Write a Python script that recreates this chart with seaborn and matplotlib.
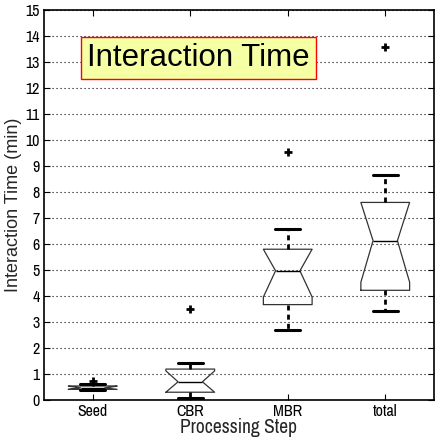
import numpy as np
import pandas as pd
import seaborn as sns
import matplotlib.pyplot as plt

# Interaction time per processing step (minutes), one value per session
steps = ["Seed", "CBR", "MBR", "total"]
seed_min = [0.38, 0.39, 0.40, 0.42, 0.45, 0.47, 0.50, 0.53, 0.55, 0.63, 0.75]
cbr_min = [0.08, 0.20, 0.27, 0.33, 0.50, 0.70, 0.90, 1.10, 1.28, 1.42, 3.49]
mbr_min = [2.69, 3.20, 3.55, 3.79, 4.40, 4.97, 5.30, 5.65, 5.95, 6.58, 9.55]
total_min = [3.42, 3.90, 4.10, 4.34, 5.20, 6.13, 6.70, 7.40, 7.80, 8.65, 13.59]
y_ticks = list(range(0, 16))

df = pd.DataFrame({
    "step": np.repeat(steps, len(seed_min)),
    "minutes": seed_min + cbr_min + mbr_min + total_min,
})

sns.set_style("ticks")
plt.rcParams["font.family"] = ["Liberation Sans", "DejaVu Sans"]
narrow = ["Archivo Narrow", "Liberation Sans", "DejaVu Sans"]

fig = plt.figure(figsize=(4.39, 4.46), dpi=100)
ax = fig.add_axes([0.1002, 0.1031, 0.8884, 0.8744])

sns.boxplot(
    data=df, x="step", y="minutes", order=steps, ax=ax,
    notch=True, fill=False, width=0.5, whis=1.5,
    linecolor="black", linewidth=0.9, capwidths=0.26,
    boxprops=dict(color="#333333", linewidth=0.9),
    medianprops=dict(color="black", linewidth=1.0),
    whiskerprops=dict(color="black", linewidth=2.0, linestyle=(0, (1.8, 1.5))),
    capprops=dict(color="black", linewidth=2.2),
    flierprops=dict(marker="+", markersize=5.5, markeredgewidth=2.0,
                    markeredgecolor="black"),
)

# keep notches inside the box (matlab style)
for ln in ax.lines:
    y = np.asarray(ln.get_ydata(), dtype=float)
    if len(y) == 11:
        ln.set_ydata(np.clip(y, y[0], y[5]))

ax.set_xlim(-0.5, 3.5)
ax.set_ylim(0, 15)
ax.set_yticks(y_ticks)
ax.yaxis.grid(True, linestyle=(0, (1, 2.6)), color="black", linewidth=0.8)
ax.set_axisbelow(True)

ax.tick_params(direction="in", top=True, right=True, length=4, width=0.8,
               labelsize=11.5, pad=3, colors="black")
for lbl in ax.get_xticklabels() + ax.get_yticklabels():
    lbl.set_family(narrow)
for sp in ax.spines.values():
    sp.set_visible(True)
    sp.set_color("black")
    sp.set_linewidth(1.2)

ax.set_xlabel("Processing Step", fontsize=14, family=narrow, labelpad=-1)
ax.set_ylabel("Interaction Time (min)", fontsize=13)
ax.yaxis.set_label_coords(-0.056, 0.5)

ax.text(0.396, 0.877, "Interaction Time", transform=ax.transAxes,
        ha="center", va="center", fontsize=22.5, color="black",
        bbox=dict(boxstyle="square,pad=0.2", facecolor="#f5ffa3",
                  edgecolor="red", linewidth=1.0))

fig.savefig("out.png", dpi=100)
